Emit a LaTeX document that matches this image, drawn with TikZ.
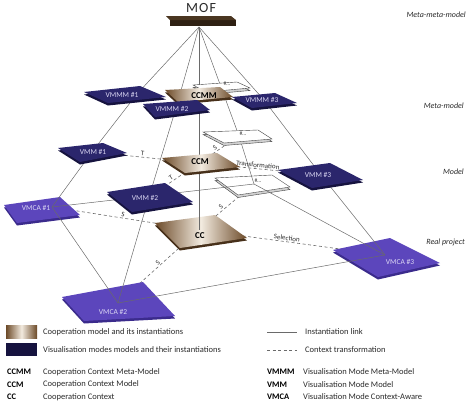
\documentclass[tikz,border=0pt]{standalone}
\usepackage{fontspec}
\setmainfont{Carlito}
\usetikzlibrary{arrows.meta}

\definecolor{navy}{HTML}{2B266C}
\definecolor{navyside}{HTML}{16133F}
\definecolor{violet}{HTML}{5C46BC}
\definecolor{violetside}{HTML}{3B2B8C}
\definecolor{brownD}{HTML}{6C4A28}
\definecolor{brownL}{HTML}{F2EADF}
\definecolor{brownside}{HTML}{47301A}
\definecolor{moftop}{HTML}{4A3621}
\definecolor{mofside}{HTML}{2E2013}
\definecolor{linkgray}{HTML}{6A6A6A}
\definecolor{labtext}{HTML}{DCD8F4}
\definecolor{ink}{HTML}{2A2A2A}

\tikzset{
  vm/.style={fill=navy},
  vm side/.style={fill=navyside},
  vmca/.style={fill=violet},
  vmca side/.style={fill=violetside},
  coop/.style={left color=brownD, right color=brownD, middle color=brownL},
  coop side/.style={fill=brownside},
  blank/.style={fill=white, draw=black!75, line width=0.4pt},
  blank side/.style={fill=black!18, draw=black!75, line width=0.4pt},
  link/.style={draw=linkgray, line width=0.5pt},
  ctx/.style={draw=linkgray, line width=0.6pt, dash pattern=on 3pt off 2.5pt},
  vlbl/.style={text=labtext, font=\fontsize{7.5}{8}\selectfont, inner sep=0pt},
  clbl/.style={text=black, font=\fontsize{9}{9}\selectfont\bfseries, inner sep=0pt},
  hlbl/.style={text=black!80, font=\fontsize{5.5}{6}\selectfont, inner sep=0pt},
  dlbl/.style={text=ink, font=\fontsize{7}{7}\selectfont, inner sep=1pt, sloped, above},
  level/.style={text=ink, font=\fontsize{8}{9}\selectfont\itshape, anchor=east, inner sep=0pt},
  legend/.style={text=ink, font=\fontsize{8.5}{9}\selectfont, anchor=west, inner sep=0pt},
  abbr/.style={text=black, font=\fontsize{8.5}{9}\selectfont\bfseries, anchor=west, inner sep=0pt}
}

% plane with a thin side: style, then four corners
\newcommand{\plane}[5]{%
  \path[#1 side, yshift=-2.5pt] (#2) -- (#3) -- (#4) -- (#5) -- cycle;
  \path[#1] (#2) -- (#3) -- (#4) -- (#5) -- cycle;
}

\begin{document}
\begin{tikzpicture}[x=1pt,y=-1pt]
\useasboundingbox (0,0) rectangle (474,402);

% hubs
\coordinate (mof) at (199,27);
\coordinate (vmmm1) at (137,94);
\coordinate (vmmm2) at (176,108);
\coordinate (ccmm) at (199,95);
\coordinate (w1) at (221,87);
\coordinate (vmmm3) at (264,100);
\coordinate (vmm1) at (92,152);
\coordinate (vmm2) at (149,197);
\coordinate (ccm) at (199,163);
\coordinate (w2) at (239,136);
\coordinate (vmm3) at (321,175);
\coordinate (vmca1) at (52,207);
\coordinate (vmca2) at (118,303);
\coordinate (cc) at (199,230);
\coordinate (w3) at (254,184);
\coordinate (vmca3) at (385,255);

% context transformations
\foreach \a/\b in {vmm1/ccm, ccm/vmm3, ccm/w2, ccm/vmm2, cc/vmca1, cc/w3, cc/vmca3, cc/vmca2}
  \draw[ctx] (\a) -- (\b);

% real project
\plane{vmca}{4,205}{60,197}{80,215}{17,223}
\plane{vmca}{62,297}{143,282}{175,316}{84,321}
\plane{vmca}{333,250}{390,238}{440,263}{378,277}
\plane{coop}{155,223}{215,215}{247,238}{180,248}
\plane{blank}{215,178}{272,175}{290,187}{238,195}

% instantiation links
\foreach \a/\b in {mof/vmmm1, mof/vmmm2, mof/ccmm, mof/w1, mof/vmmm3,
    vmmm1/vmm1, vmmm2/vmm2, ccmm/ccm, w1/w2, vmmm3/vmm3,
    vmm1/vmca1, vmm2/vmca2, ccm/cc, w2/w3, vmm3/vmca3,
    vmca1/vmca2, vmca2/vmca3, vmca3/w3, w3/vmca1}
  \draw[link] (\a) -- (\b);

% model
\plane{blank}{203,132}{258,130}{272,139}{224,143}
\plane{coop}{162,158}{217,153}{240,167}{185,173}
\plane{vm}{58,148}{103,143}{127,153}{80,162}
\plane{vm}{278,170}{330,163}{363,180}{312,188}
\plane{vm}{107,192}{165,183}{193,202}{132,212}

% meta-model
\plane{blank}{193,85}{237,82}{250,88}{206,92}
\plane{coop}{165,90}{220,87}{233,97}{178,102}
\plane{vm}{84,92}{140,86}{166,97}{108,103}
\plane{vm}{232,97}{275,93}{297,103}{252,108}
\plane{vm}{143,104}{197,100}{210,110}{155,117}

% MOF
\fill[mofside] (170,20) -- (236,20) -- (236,26) -- (170,26) -- cycle;
\fill[moftop] (166,16) -- (231,16) -- (236,20) -- (170,20) -- cycle;
\node[text=ink, font=\fontsize{14}{14}\selectfont\addfontfeature{LetterSpace=8}, inner sep=0pt] (moft) at (201,8) {MOF};

% plane labels
\node[vlbl] (t-vmmm1) at (122,95) {VMMM \#1};
\node[vlbl] (t-vmmm2) at (172,109) {VMMM \#2};
\node[vlbl] (t-vmmm3) at (262,100) {VMMM \#3};
\node[clbl] (t-ccmm) at (204,96) {CCMM};
\node[hlbl] (t-w1) at (227,84) {\#\ldots};
\node[hlbl] (t-w2) at (243,134) {\#\ldots};
\node[hlbl] (t-w3) at (258,181) {\#\ldots};
\node[vlbl] (t-vmm1) at (93,152) {VMM \#1};
\node[vlbl] (t-vmm2) at (145,198) {VMM \#2};
\node[vlbl] (t-vmm3) at (318,175) {VMM \#3};
\node[clbl] (t-ccm) at (200,162) {CCM};
\node[clbl] (t-cc) at (200,236) {CC};
\node[vlbl] (t-vmca1) at (36,208) {VMCA \#1};
\node[vlbl] (t-vmca2) at (113,312) {VMCA \#2};
\node[vlbl] (t-vmca3) at (400,262) {VMCA \#3};

% transformation labels
\path (vmm1) -- node[dlbl, pos=0.47] (d1) {T} (ccm);
\path (ccm) -- node[dlbl, pos=0.48] (d2) {Transformation} (vmm3);
\path (ccm) -- node[dlbl, pos=0.45] (d3) {S} (w2);
\path (ccm) -- node[dlbl, pos=0.52] (d4) {T} (vmm2);
\path (cc) -- node[dlbl, pos=0.52] (d5) {S} (vmca1);
\path (cc) -- node[dlbl, pos=0.44] (d6) {S} (w3);
\path (cc) -- node[dlbl, pos=0.47] (d7) {Selection} (vmca3);
\path (cc) -- node[dlbl, pos=0.48] (d8) {S} (vmca2);

% levels
\node[level] (lv1) at (466,15) {Meta-meta-model};
\node[level] (lv2) at (464,106) {Meta-model};
\node[level] (lv3) at (464,172) {Model};
\node[level] (lv4) at (465,242) {Real project};

% legend
\fill[coop] (6,325) rectangle (37,338);
\node[legend] (lg1) at (43,332) {Cooperation model and its instantiations};
\fill[navyside] (6,343) rectangle (37,356);
\node[legend] (lg2) at (43,350) {Visualisation modes models and their instantiations};
\coordinate (ls1) at (267,332);
\coordinate (le1) at (297,332);
\draw[link] (ls1) -- (le1);
\node[legend] (lg3) at (305,332) {Instantiation link};
\coordinate (ls2) at (267,350);
\coordinate (le2) at (297,350);
\draw[ctx] (ls2) -- (le2);
\node[legend] (lg4) at (305,350) {Context transformation};
\foreach \k/\t [count=\i] in {CCMM/Cooperation Context Meta-Model, CCM/Cooperation Context Model, CC/Cooperation Context} {
  \node[abbr] (ka\i) at (7,{359.5+12.5*\i}) {\k};
  \node[legend] (ta\i) at (43,{359.5+12.5*\i}) {\t};
}
\foreach \k/\t [count=\i] in {VMMM/Visualisation Mode Meta-Model, VMM/Visualisation Mode Model, VMCA/Visualisation Mode Context-Aware} {
  \node[abbr] (kb\i) at (267,{359.5+12.5*\i}) {\k};
  \node[legend] (tb\i) at (303,{359.5+12.5*\i}) {\t};
}
\end{tikzpicture}
\end{document}
